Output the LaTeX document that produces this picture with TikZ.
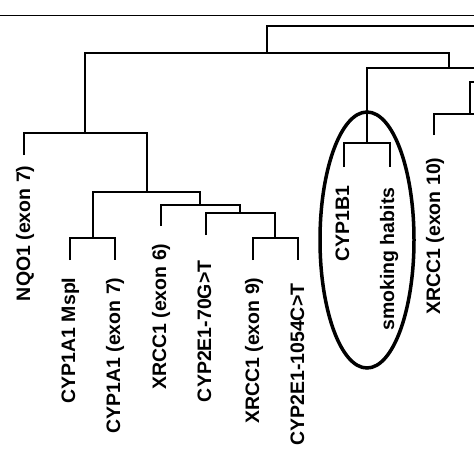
\documentclass[tikz,border=0pt]{standalone}
\usepackage{fontspec}
\setmainfont{Liberation Sans}
\begin{document}
\begin{tikzpicture}
  [x=1pt,y=-1pt,line width=1.2pt,
   every node/.style={rotate=90,anchor=base east,inner sep=0pt,
     font=\bfseries\fontsize{19.5}{22}\selectfont}]
  \useasboundingbox (0,0) rectangle (474,474);
  \clip (0,0) rectangle (474,474);

  \node (nqo)   at (30,165)  {NQO1 (exon 7)};
  \node (msp)   at (75,277)  {CYP1A1 MspI};
  \node (c7)    at (120,277) {CYP1A1 (exon 7)};
  \node (x6)    at (166,243) {XRCC1 (exon 6)};
  \node (g70)   at (211,260) {CYP2E1-70G>T};
  \node (x9)    at (259,277) {XRCC1 (exon 9)};
  \node (c1054) at (304,283) {CYP2E1-1054C>T};
  \node (b1)    at (349,185) {CYP1B1};
  \node (smk)   at (394,187) {smoking habits};
  \node (x10)   at (440,157) {XRCC1 (exon 10)};

  % leaf tips
  \coordinate (tnqo)   at (24,155);
  \coordinate (tmsp)   at (70,260);
  \coordinate (tc7)    at (115,260);
  \coordinate (tx6)    at (161,226);
  \coordinate (tg70)   at (206,235);
  \coordinate (tx9)    at (253,260);
  \coordinate (tc1054) at (298,260);
  \coordinate (tb1)    at (344,167);
  \coordinate (tsmk)   at (390,167);
  \coordinate (tx10)   at (434,135);

  % joins
  \coordinate (jA) at (93,238);
  \coordinate (jB) at (275,238);
  \coordinate (jC) at (240,213);
  \coordinate (jD) at (200,205);
  \coordinate (jE) at (147,192);
  \coordinate (jF) at (85,133);
  \coordinate (jG) at (367,143);
  \coordinate (jH) at (470,114);
  \coordinate (jI) at (449,68);
  \coordinate (jJ) at (267,53);

  % branches leaving the picture
  \coordinate (oH) at (500,114);
  \coordinate (oL) at (500,82);
  \coordinate (oI) at (500,68);
  \coordinate (oK) at (500,26);
  \coordinate (oT1) at (-10,15);
  \coordinate (oT2) at (500,15);

  \foreach \a/\j/\b in {tmsp/jA/tc7,tx9/jB/tc1054,tg70/jC/jB,tx6/jD/jC,
                        jA/jE/jD,tnqo/jF/jE,tb1/jG/tsmk,jF/jJ/jI}
    \draw (\a) |- (\j) -| (\b);

  \draw (jG) |- (oI);
  \draw (jJ) |- (oK);
  \draw (tx10) |- (oH);
  \draw (jH) |- (oL);
  \draw[line width=1pt] (oT1) -- (oT2);

  \draw[line width=3.5pt] (367,240) ellipse [x radius=47,y radius=128];

\end{tikzpicture}
\end{document}
